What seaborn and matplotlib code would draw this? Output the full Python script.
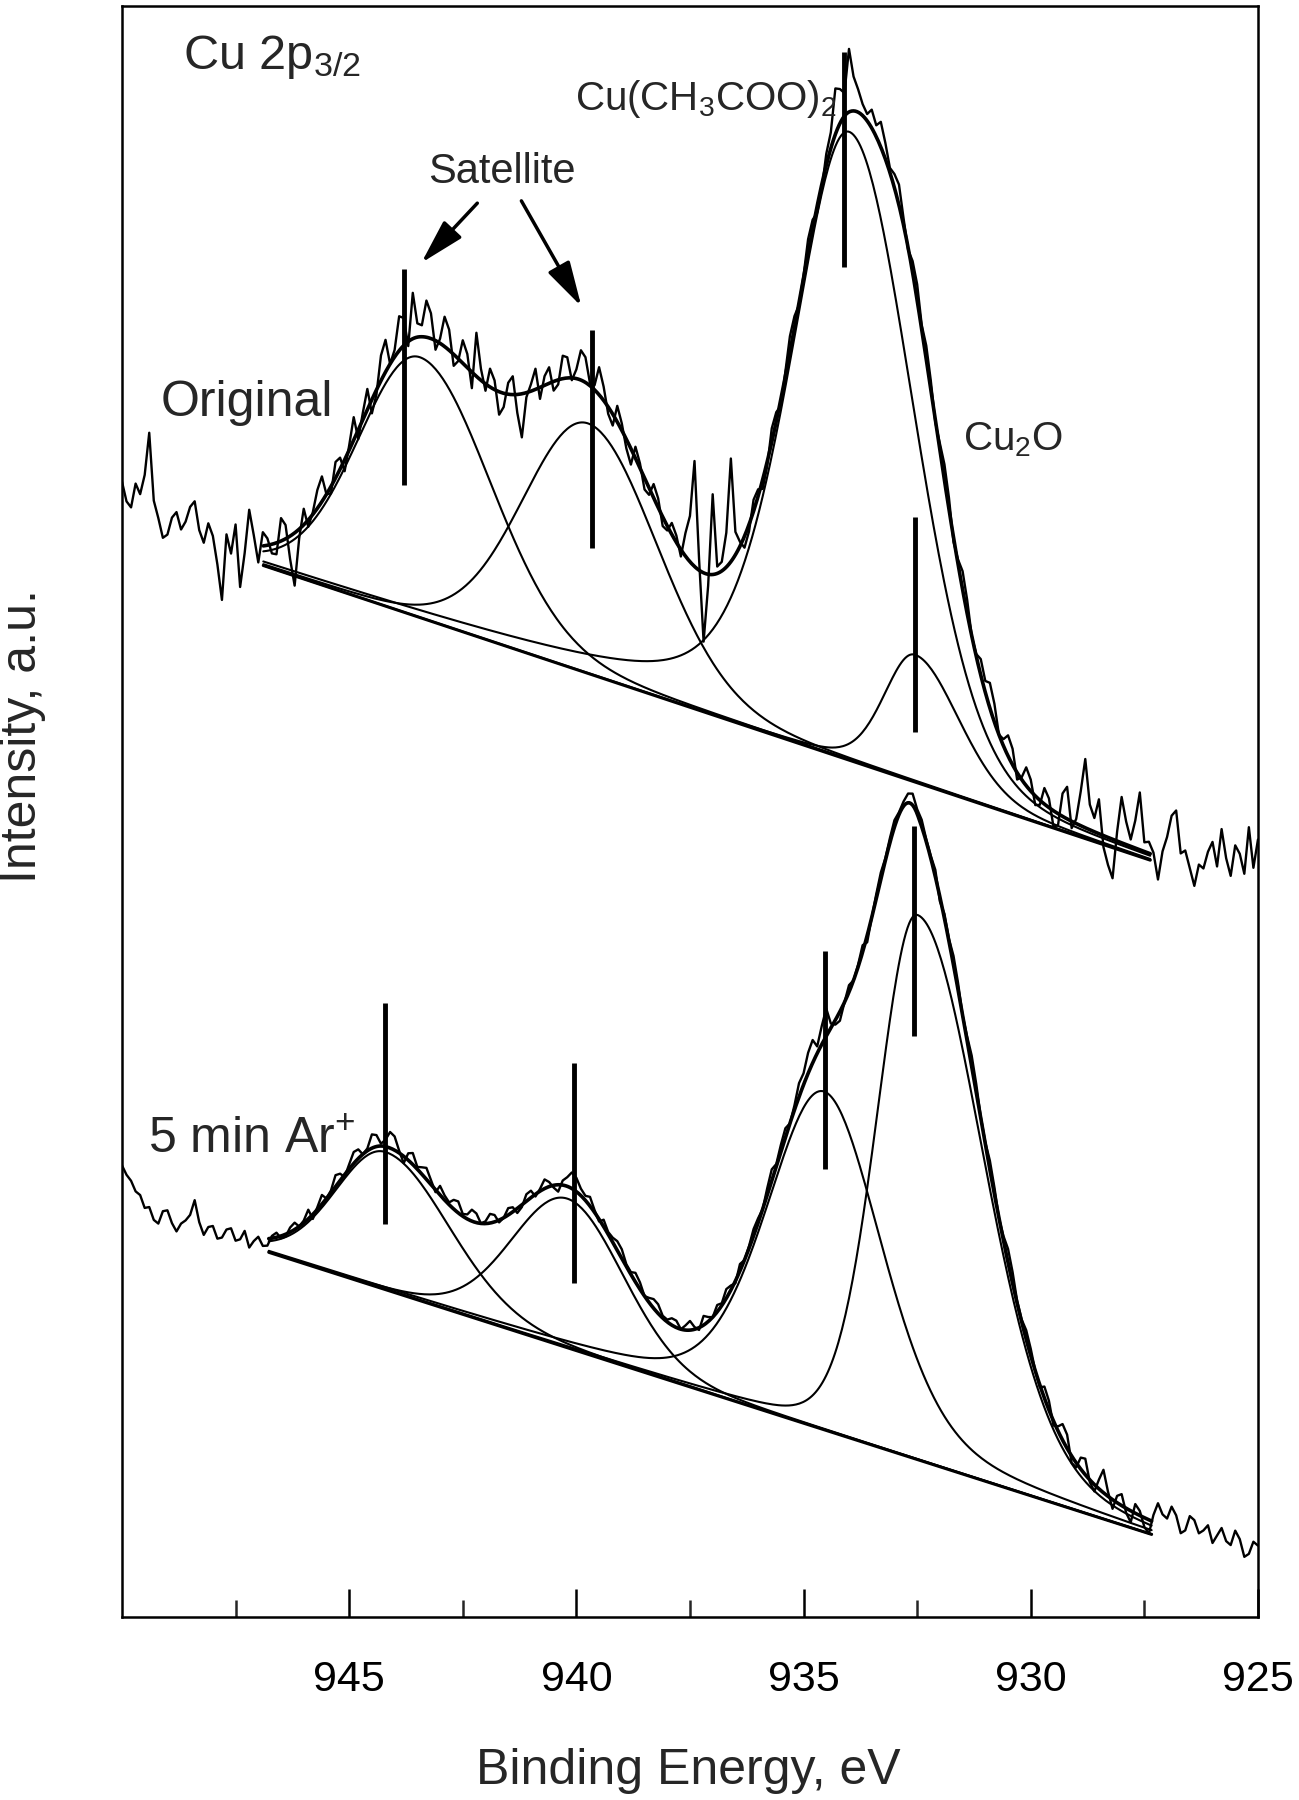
import numpy as np
import matplotlib
matplotlib.use("Agg")
import matplotlib.pyplot as plt
import seaborn as sns

# XPS Cu 2p3/2 : original vs 5 min Ar+ sputtered
# peak order: satellite 1, satellite 2, Cu(CH3COO)2, Cu2O
top_center = [943.45, 939.75, 934.0, 932.55]
top_height = [227, 218, 548, 111]
top_hw_hi = [1.6, 1.7, 1.55, 0.8]     # half width on high BE side
top_hw_lo = [1.85, 1.8, 1.65, 1.15]   # half width on low BE side
top_eta_hi = [0.1, 0.1, 0.45, 0.2]    # lorentz fraction, high BE side
top_eta_lo = [0.1, 0.1, 0.12, 0.2]    # lorentz fraction, low BE side
top_bg_x = [946.89, 927.37]
top_bg_y = [917, 660]
top_mark_x = [943.8, 939.65, 934.1, 932.55]
top_mark_lo = [987, 932, 1177, 772]
top_mark_hi = [1176, 1122, 1365, 959]

bot_center = [944.2, 940.2, 934.55, 932.5]
bot_height = [120, 130, 295, 475]
bot_hw_hi = [1.3, 1.45, 1.5, 1.05]
bot_hw_lo = [1.65, 1.45, 1.5, 1.7]
bot_eta_hi = [0.1, 0.1, 0.3, 0.15]
bot_eta_lo = [0.1, 0.1, 0.3, 0.15]
bot_bg_x = [946.77, 927.34]
bot_bg_y = [318, 72]
bot_mark_x = [944.22, 940.05, 934.52, 932.58]
bot_mark_lo = [343, 291, 391, 507]
bot_mark_hi = [535, 483, 581, 690]

# raw spectrum = fit + residual, 950 -> 925 eV every 0.1 eV
top_resid = [28, 12, 8, 30, 22, 40, 78, 20, 6, -10,
             -6, 10, 16, 2, 10, 24, 30, 6, -4, 14,
             4, -20, -50, 8, -8, 18, -36, -6, 32, 10,
             -14, 12, 6, -8, -10, 20, 12, -20, -46, -8,
             14, -6, 2, 16, 22, 0, -6, 14, 10, -10,
             4, 20, -8, 6, 18, -12, -4, 22, 28, 0,
             6, 30, 24, -4, 40, 12, 10, 32, 22, -8,
             4, 26, 18, -10, -2, 20, 12, -14, 38, 10,
             -6, 16, 8, -20, -12, 10, 16, -16, -38, -4,
             6, 18, -10, 8, 14, -8, -4, 20, 18, -2,
             8, 26, 22, 2, 4, 24, 12, -6, -10, 14,
             6, -8, -14, 10, 4, -10, -6, 12, 8, -8,
             -4, 10, 6, -6, 20, 40, 92, 10, -60, -10,
             70, 6, 8, 30, 90, 20, 4, -10, -6, 10,
             6, -8, -4, 12, 8, -6, 4, 14, 10, -2,
             2, 12, 8, -6, -4, 10, 14, 40, 30, 20,
             55, 30, 20, 10, 6, 16, 10, 22, 14, 4,
             12, 18, 6, -2, 10, 14, 4, 12, 8, -2,
             6, 14, 10, -4, 4, 16, 12, 0, 2, 14,
             10, 22, 16, 0, 6, 18, 14, -6, 2, 16,
             10, -8, -4, 14, 8, -14, -10, 20, 28, -6,
             4, 30, 60, 22, 12, 30, -10, -24, -34, 8,
             40, 20, 6, 24, 50, 8, 10, 2, -20, 6,
             20, 40, 46, 10, 14, 0, -14, 6, 4, 20,
             30, 10, 44, 20, 6, 34, 28, 12, 54, 20,
             46]
bot_resid = [33, 26, 22, 14, 12, 2, 4, -6, -8, 4,
             6, -4, -10, -2, 2, 8, 22, 4, -6, 2,
             4, -6, -4, 4, 6, -4, -2, 6, -8, -2,
             2, -6, -6, 2, 4, -2, -2, 4, 6, 0,
             2, 8, -4, 2, 8, 0, 2, 10, 6, -2,
             4, 10, 8, 0, 2, 12, 10, 2, 6, 14,
             12, 2, -6, 6, 10, 2, 6, 10, 4, -2,
             8, 4, 2, 8, 10, 2, 4, 10, 8, 0,
             2, 8, 6, -2, 0, 6, 4, -4, -2, 6,
             6, -2, 2, 8, 4, -2, -6, 4, 8, 14,
             12, 6, 4, 8, 2, -2, 6, 2, 4, 8,
             8, 2, 2, 8, 6, 0, 4, 8, 8, 2,
             2, 6, 6, 0, 4, 8, 2, -2, 8, 4,
             0, 6, 2, 8, 4, -2, 6, 0, 2, 6,
             4, 0, 6, 10, 2, 6, 8, 0, 4, 12,
             10, 18, 20, 6, 16, 24, 4, -4, -8, 0,
             6, 0, 2, 6, -6, 0, 4, 6, 2, 4,
             6, 2, 4, 8, 10, 4, 6, 2, 2, 6,
             -4, 4, 2, 8, 6, 0, 4, 10, 8, 2,
             2, 8, 6, 0, 4, 12, 10, 2, 2, 8,
             6, 0, -2, 10, 8, -4, 4, 14, 12, -6,
             -4, 10, 14, -2, -6, 8, 20, 4, -8, 6,
             10, -4, -10, 8, 4, -8, -12, 6, 18, 10,
             8, 20, 14, 0, 4, 18, 16, 6, 10, 16,
             2, 10, 18, 8, 6, 20, 14, 0, 4, 16,
             14]


def peak(E, c, h, wl, wr, el, er):
    # asymmetric pseudo-voigt, "l" = high BE side (left on the reversed axis)
    left = E >= c
    w = np.where(left, wl, wr)
    eta = np.where(left, el, er)
    d = ((E - c) / w) ** 2
    return h * ((1 - eta) * np.exp(-np.log(2) * d) + eta / (1 + d))


def background(E, bx, by):
    slope = (by[1] - by[0]) / (bx[1] - bx[0])
    return by[0] + slope * (E - bx[0])


sns.set_theme(style="ticks")
plt.rcParams["font.family"] = ["Liberation Sans", "DejaVu Sans"]
plt.rcParams["mathtext.fontset"] = "custom"
plt.rcParams["mathtext.rm"] = "Liberation Sans"
plt.rcParams["mathtext.it"] = "Liberation Sans:italic"

fig = plt.figure(figsize=(12.99, 18), dpi=100)
ax = fig.add_axes([0.0939, 0.1017, 0.8745, 0.895])

spectra = [
    (top_center, top_height, top_hw_hi, top_hw_lo, top_eta_hi, top_eta_lo, top_bg_x, top_bg_y,
     top_resid, top_mark_x, top_mark_lo, top_mark_hi),
    (bot_center, bot_height, bot_hw_hi, bot_hw_lo, bot_eta_hi, bot_eta_lo, bot_bg_x, bot_bg_y,
     bot_resid, bot_mark_x, bot_mark_lo, bot_mark_hi),
]

for cen, hgt, whi, wlo, ehi, elo, bx, by, res, mx, mlo, mhi in spectra:
    e_fit = np.linspace(bx[0], bx[1], 500)
    bg_fit = background(e_fit, bx, by)
    e_raw = np.linspace(950, 925, len(res))
    raw = background(e_raw, bx, by) + np.array(res, dtype=float)
    env = bg_fit.copy()
    for i in range(len(cen)):
        comp = peak(e_fit, cen[i], hgt[i], whi[i], wlo[i], ehi[i], elo[i])
        env = env + comp
        raw = raw + peak(e_raw, cen[i], hgt[i], whi[i], wlo[i], ehi[i], elo[i])
        sns.lineplot(x=e_fit, y=bg_fit + comp, ax=ax, color="black", lw=1.5,
                     estimator=None, sort=False)
    sns.lineplot(x=bx, y=by, ax=ax, color="black", lw=2.2, estimator=None, sort=False)
    sns.lineplot(x=e_raw, y=raw, ax=ax, color="black", lw=1.7, estimator=None, sort=False)
    sns.lineplot(x=e_fit, y=env, ax=ax, color="black", lw=2.6, estimator=None, sort=False)
    ax.vlines(mx, mlo, mhi, color="black", lw=3.5)

ax.set_xlim(950, 925)
ax.set_ylim(0, 1405)
ax.set_xticks([945, 940, 935, 930, 925])
ax.set_xticks([947.5, 942.5, 937.5, 932.5, 927.5], minor=True)
ax.set_yticks([])
ax.tick_params(axis="x", which="major", direction="in", length=20, width=1.8,
               pad=31, labelsize=31, colors="black")
ax.tick_params(axis="x", which="minor", direction="in", length=12, width=1.8)
for s in ax.spines.values():
    s.set_color("black")
    s.set_linewidth(1.8)
ax.set_xlabel("")
ax.set_ylabel("")

# labels
ax.text(948.66, 1350, "Cu 2p$_{\\mathrm{3/2}}$", fontsize=35, ha="left", va="baseline")
ax.text(949.16, 1047, "Original", fontsize=36, ha="left", va="baseline")
ax.text(949.43, 405, "5 min Ar$^{\\mathrm{+}}$", fontsize=36, ha="left", va="baseline")
ax.text(941.65, 1251, "Satellite", fontsize=30, ha="center", va="baseline")
ax.text(940.02, 1314, "Cu(CH$_{\\mathrm{3}}$COO)$_{\\mathrm{2}}$", fontsize=29, ha="left", va="baseline")
ax.text(931.5, 1017, "Cu$_{\\mathrm{2}}$O", fontsize=29, ha="left", va="baseline")

arrow = dict(arrowstyle="-|>,head_length=1.1,head_width=0.3", color="black", lw=2.5,
             shrinkA=0, shrinkB=0, mutation_scale=25)
ax.annotate("", xy=(943.41, 1181), xytext=(942.18, 1233), arrowprops=arrow)
ax.annotate("", xy=(939.89, 1143), xytext=(941.21, 1235), arrowprops=arrow)

fig.text(0.5296, 0.0161, "Binding Energy, eV", fontsize=36, ha="center", va="center")
fig.text(0.0177, 0.591, "Intensity, a.u.", fontsize=36, ha="center", va="center",
         rotation=90)

fig.savefig("out.png", dpi=100)
